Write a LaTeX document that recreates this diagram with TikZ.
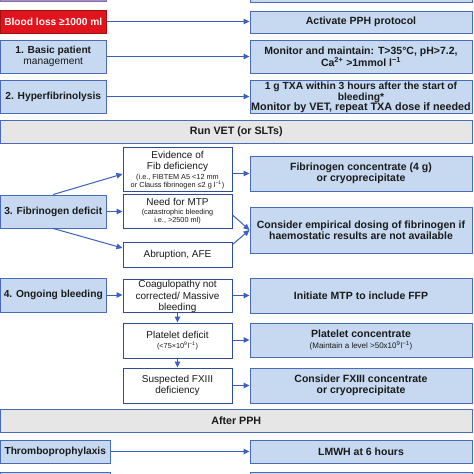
\documentclass[tikz,border=0pt]{standalone}
\usepackage{fontspec}
\setmainfont{Liberation Sans}
\usetikzlibrary{arrows.meta,calc}
\definecolor{lblue}{HTML}{C6D9F1}
\definecolor{bblue}{HTML}{4A6CB8}
\definecolor{dblue}{HTML}{2F4C96}
\definecolor{cblue}{HTML}{3B66D4}
\definecolor{lineblue}{HTML}{3A5EC0}
\definecolor{gfill}{HTML}{E6E6E6}
\definecolor{rfill}{HTML}{E0141C}
\definecolor{rbord}{HTML}{9E1010}
\definecolor{pfill}{HTML}{A68CD2}
\definecolor{txt}{HTML}{1A1A1A}
\newcommand{\sm}{\fontsize{7.3}{7.4}\selectfont\mdseries}
\begin{document}
\begin{tikzpicture}[x=1pt,y=-1pt,
  lbox/.style={draw=bblue, line width=1pt, fill=lblue, inner sep=0pt, align=center, text=txt,
    font=\fontsize{10.5}{11.5}\selectfont\bfseries},
  wbox/.style={draw=dblue, line width=1pt, fill=white, inner sep=0pt, align=center, text=txt,
    font=\fontsize{10}{11.2}\selectfont},
  gbar/.style={draw=bblue, line width=1pt, fill=gfill, inner sep=0pt, align=center, text=txt,
    font=\fontsize{10.7}{11.5}\selectfont\bfseries},
  rbox/.style={draw=rbord, line width=1pt, fill=rfill, inner sep=0pt, align=center, text=white,
    font=\fontsize{10.2}{11.4}\selectfont\bfseries},
  conn/.style={draw=lineblue, line width=1pt, -{Triangle[length=6pt,width=5.5pt,fill=cblue]}},
  lw/.style={minimum width=105.5pt},
  rw/.style={minimum width=222pt},
  mw/.style={minimum width=109pt}]
\useasboundingbox (0,0) rectangle (474,474);
\clip (0,0) rectangle (474,474);
% partial boxes at top and bottom
\node[lbox, fill=pfill, draw=pfill!80!black, minimum width=106.5pt, minimum height=21.5pt] (ptop) at (53.5,-9.25) {};
\node[lbox, rw, minimum height=22.5pt] (rtop) at (361,-8.75) {};
\node[lbox, minimum width=109.5pt, minimum height=20pt] (lbot) at (55.25,482) {};
\node[lbox, rw, minimum height=20pt] (rbot) at (361,482) {};
% left column
\node[rbox, lw, minimum height=23pt] (blood) at (53.25,21.5) {Blood loss ≥1000 ml};
\node[lbox, lw, minimum height=33pt, font=\fontsize{10.2}{11.4}\selectfont\bfseries] (basic) at (53.25,56.5) {1. Basic patient\\{\mdseries management}};
\node[lbox, lw, minimum height=33pt, font=\fontsize{10.2}{11.4}\selectfont\bfseries] (hyper) at (53.25,96.5) {2. Hyperfibrinolysis};
\node[lbox, lw, minimum height=33pt, font=\fontsize{10.2}{11.4}\selectfont\bfseries] (fib) at (53.25,211.5) {3. Fibrinogen deficit};
\node[lbox, lw, minimum height=34pt, font=\fontsize{10.2}{11.4}\selectfont\bfseries] (ongoing) at (53.25,295) {4. Ongoing bleeding};
\node[lbox, minimum width=109.5pt, minimum height=23pt, font=\fontsize{10.2}{11.4}\selectfont\bfseries] (thrombo) at (55.25,451.5) {Thromboprophylaxis};
% right column
\node[lbox, rw, minimum height=22pt] (activate) at (361,22) {Activate PPH protocol};
\node[lbox, rw, minimum height=33pt] (monitor) at (361,56.5) {Monitor and maintain: T>35°C, pH>7.2,\\Ca\textsuperscript{2+} >1mmol l\textsuperscript{−1}};
\node[lbox, rw, minimum height=33pt, font=\fontsize{10.3}{10.8}\selectfont\bfseries] (txa) at (361,96.5) {};
\node[font=\fontsize{10.3}{10.8}\selectfont\bfseries, text=txt, align=center, inner sep=0pt] (txat) at ([yshift=-1pt]txa.center) {1 g TXA within 3 hours after the start of\\bleeding*\\{\fontsize{10.8}{10.8}\selectfont Monitor by VET, repeat TXA dose if needed}};
\node[lbox, rw, minimum height=35pt] (fibconc) at (361,173.5) {Fibrinogen concentrate (4 g)\\or cryoprecipitate};
\node[lbox, rw, minimum height=46pt] (consider) at (361,230) {Consider empirical dosing of fibrinogen if\\haemostatic results are not available};
\node[lbox, rw, minimum height=35pt] (initiate) at (361,295.5) {Initiate MTP to include FFP};
\node[lbox, rw, minimum height=34pt] (platconc) at (361,340) {Platelet concentrate\\{\fontsize{8}{8.5}\selectfont\mdseries (Maintain a level >50x10\textsuperscript{9}l\textsuperscript{−1})}};
\node[lbox, rw, minimum height=35pt] (fxiiiconc) at (361,385.5) {Consider FXIII concentrate\\or cryoprecipitate};
\node[lbox, rw, minimum height=23pt] (lmwh) at (361,451.5) {LMWH at 6 hours};
% bars
\node[gbar, minimum width=471.5pt, minimum height=23pt] (runvet) at (236.25,131.5) {Run VET (or SLTs)};
\node[gbar, minimum width=471.5pt, minimum height=23pt] (after) at (236.25,420.5) {After PPH};
% middle column
\node[wbox, mw, minimum height=44pt] (evid) at (177.5,169) {};
\node[font=\fontsize{10}{11.2}\selectfont, text=txt, align=center, inner sep=0pt] (evidt) at ([yshift=-1pt]evid.center) {Evidence of\\Fib deficiency\\[-1.5pt]{\sm (i.e., FIBTEM A5 <12 mm}\\[-3.3pt]{\sm or Clauss fibrinogen ≤2 g l\textsuperscript{−1})}};
\node[wbox, mw, minimum height=34pt] (mtp) at (177.5,211) {Need for MTP\\[-1.5pt]{\sm (catastrophic bleeding}\\[-3.3pt]{\sm i.e., >2500 ml)}};
\node[wbox, mw, minimum height=25pt] (abr) at (177.5,254.5) {Abruption, AFE};
\node[wbox, mw, minimum height=33pt, font=\fontsize{10}{11}\selectfont] (coag) at (177.5,295.5) {};
\node[font=\fontsize{10}{11.2}\selectfont, text=txt, align=center, inner sep=0pt] (coagt) at ([yshift=-1pt]coag.center) {Coagulopathy not\\corrected/ Massive\\bleeding};
\node[wbox, mw, minimum height=35pt] (platelet) at (177.5,340.5) {Platelet deficit\\[-1pt]{\sm (<75×10\textsuperscript{9}l\textsuperscript{−1})}};
\node[wbox, mw, minimum height=35pt] (fxiii) at (177.5,385.5) {Suspected FXIII\\deficiency};
% connectors
\draw[conn] (blood.east) -- (blood.east -| activate.west);
\draw[conn] (basic.east) -- (basic.east -| monitor.west);
\draw[conn] (hyper.east) -- (hyper.east -| txa.west);
\draw[conn] (fib.north) -- ([yshift=-5pt]evid.west);
\draw[conn] (fib.east) -- (fib.east -| mtp.west);
\draw[conn] (fib.south) -- ([yshift=6.5pt]abr.west);
\draw[conn] (evid.east |- fibconc.west) -- (fibconc.west);
\draw[conn] ([yshift=-4pt]mtp.east) -- (consider.west);
\draw[conn] ([yshift=-3pt]abr.north east) -- (consider.west);
\draw[conn] (ongoing.east) -- (ongoing.east -| coag.west);
\draw[conn] (coag.east) -- (coag.east -| initiate.west);
\draw[conn] (coag.south) -- (platelet.north);
\draw[conn] (platelet.east |- platconc.west) -- (platconc.west);
\draw[conn] (platelet.south) -- (fxiii.north);
\draw[conn] (fxiii.east) -- (fxiiiconc.west);
\draw[conn] (thrombo.east) -- (thrombo.east -| lmwh.west);
\end{tikzpicture}
\end{document}
